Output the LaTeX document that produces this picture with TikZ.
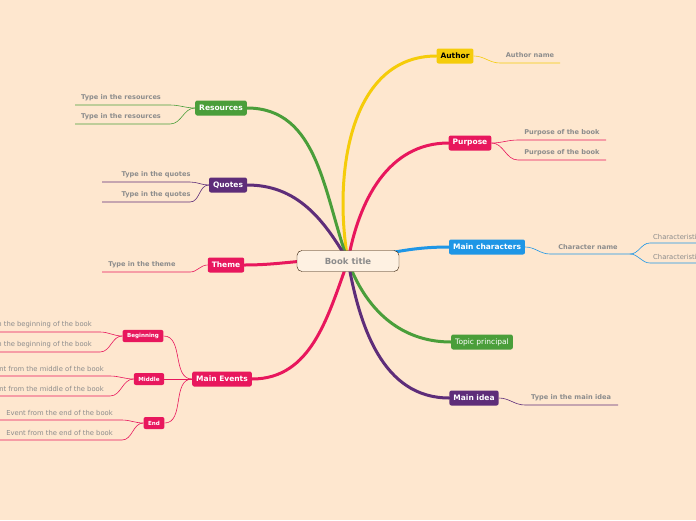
\documentclass[tikz,border=0pt]{standalone}
\usepackage{fontspec}
\setmainfont{DejaVu Sans}
\begin{document}
\begin{tikzpicture}[x=1pt,y=-1pt,
 box/.style={rounded corners=2pt,text=white,font=\bfseries\fontsize{7.5}{8}\selectfont,inner xsep=4pt,minimum height=15pt},
 sbox/.style={box,font=\bfseries\fontsize{5.6}{6}\selectfont,minimum height=12pt,inner xsep=4.5pt},
 lbl/.style={text=black!45,font=\bfseries\fontsize{6.6}{7}\selectfont,inner sep=1pt},
 lbr/.style={text=black!45,font=\fontsize{6.8}{7}\selectfont,inner sep=1pt},
 br/.style={line width=3pt,line cap=round},
 th/.style={line width=0.6pt}]
\definecolor{bg}{HTML}{FEE7CF}
\definecolor{cy}{HTML}{F5CC0A}
\definecolor{cp}{HTML}{E8175D}
\definecolor{cb}{HTML}{1E96E6}
\definecolor{cg}{HTML}{4A9E3A}
\definecolor{cv}{HTML}{5E2D79}
\fill[bg] (0,0) rectangle (696,520);
\useasboundingbox (0,0) rectangle (696,520);
\clip (0,0) rectangle (696,520);
% main nodes
\node[box,fill=cy,text=black] (au) at (455,56) {Author};
\node[box,fill=cp] (pu) at (470,143) {Purpose};
\node[box,fill=cb] (mc) at (487,247) {Main characters};
\node[box,fill=cg,font=\fontsize{7.5}{8}\selectfont] (tp) at (482,342) {Topic principal};
\node[box,fill=cv] (mi) at (474,398) {Main idea};
\node[box,fill=cg] (re) at (221,108) {Resources};
\node[box,fill=cv] (qu) at (228,185) {Quotes};
\node[box,fill=cp] (th) at (226,265) {Theme};
\node[box,fill=cp] (me) at (222,379) {Main Events};
\node[sbox,fill=cp] (be) at (143,336) {Beginning};
\node[sbox,fill=cp] (mid) at (149,379) {Middle};
\node[sbox,fill=cp] (en) at (154,423) {End};
% branches
\coordinate (c) at (348,261);
\draw[br,cy] (c) to[out=100,in=180] (au.west);
\draw[br,cp] (c) to[out=80,in=180] (pu.west);
\draw[br,cb] (c) to[out=10,in=180] (mc.west);
\draw[br,cg] (c) to[out=-70,in=180] (tp.west);
\draw[br,cv] (c) to[out=-80,in=180] (mi.west);
\draw[br,cg] (c) to[out=110,in=0] (re.east);
\draw[br,cv] (c) to[out=120,in=0] (qu.east);
\draw[br,cp] (c) to[out=175,in=0] (th.east);
\draw[br,cp] (c) to[out=-110,in=0] (me.east);
\node[draw=black!70!orange!60!black,fill=bg!60!white,rounded corners=5pt,minimum width=102pt,minimum height=21pt,text=black!45,font=\bfseries\fontsize{8.5}{9}\selectfont] (bt) at (c) {Book title};
% right leaves
\node[lbl] (an) at (530,55) {Author name};
\coordinate (an1) at (500,63); \coordinate (an2) at (560,63);
\draw[th,cy] (au.east) to[out=0,in=180] (an1) -- (an2);
\node[lbl] (p1) at (562,133) {Purpose of the book};
\node[lbl] (p2) at (562,153) {Purpose of the book};
\coordinate (pa) at (518,140); \coordinate (pb) at (518,160);
\draw[th,cp] (pu.east) to[out=0,in=180] (pa) -- (606,140);
\draw[th,cp] (pu.east) to[out=0,in=180] (pb) -- (606,160);
\node[lbl] (cn) at (588,247) {Character name};
\coordinate (ca) at (550,254); \coordinate (cz) at (630,254);
\draw[th,cb] (mc.east) to[out=0,in=180] (ca) -- (cz);
\node[lbr,anchor=west] (k1) at (652,237) {Characteristic};
\node[lbr,anchor=west] (k2) at (652,257) {Characteristic};
\draw[th,cb] (cz) to[out=0,in=180] (650,243) -- (700,243);
\draw[th,cb] (cz) to[out=0,in=180] (650,263) -- (700,263);
\node[lbl] (ti) at (571,398) {Type in the main idea};
\coordinate (tia) at (525,405);
\draw[th,cv] (mi.east) to[out=0,in=180] (tia) -- (618,405);
% left leaves
\node[lbl] (r1) at (121,98) {Type in the resources};
\node[lbl] (r2) at (121,117) {Type in the resources};
\draw[th,cg] (re.west) to[out=180,in=0] (170,105) -- (75,105);
\draw[th,cg] (re.west) to[out=180,in=0] (170,124) -- (75,124);
\node[lbl] (q1) at (156,175) {Type in the quotes};
\node[lbl] (q2) at (156,195) {Type in the quotes};
\draw[th,cv] (qu.west) to[out=180,in=0] (190,182) -- (102,182);
\draw[th,cv] (qu.west) to[out=180,in=0] (190,202) -- (102,202);
\node[lbl] (t1) at (142,265) {Type in the theme};
\draw[th,cp] (th.west) to[out=180,in=0] (190,272) -- (102,272);
\draw[th,cp] (me.west) to[out=180,in=0] (be.east);
\draw[th,cp] (me.west) -- (mid.east);
\draw[th,cp] (me.west) to[out=180,in=0] (en.east);
\node[lbr,anchor=east] (b1) at (93,325) {Event from the beginning of the book};
\node[lbr,anchor=east] (b2) at (93,345) {Event from the beginning of the book};
\draw[th,cp] (be.west) to[out=180,in=0] (100,332) -- (0,332);
\draw[th,cp] (be.west) to[out=180,in=0] (100,352) -- (0,352);
\node[lbr,anchor=east] (m1) at (105,369) {Event from the middle of the book};
\node[lbr,anchor=east] (m2) at (105,389) {Event from the middle of the book};
\draw[th,cp] (mid.west) to[out=180,in=0] (110,376) -- (0,376);
\draw[th,cp] (mid.west) to[out=180,in=0] (110,396) -- (0,396);
\node[lbr,anchor=east] (e1) at (114,413) {Event from the end of the book};
\node[lbr,anchor=east] (e2) at (114,433) {Event from the end of the book};
\draw[th,cp] (en.west) to[out=180,in=0] (122,420) -- (0,420);
\draw[th,cp] (en.west) to[out=180,in=0] (122,440) -- (0,440);
\end{tikzpicture}
\end{document}
